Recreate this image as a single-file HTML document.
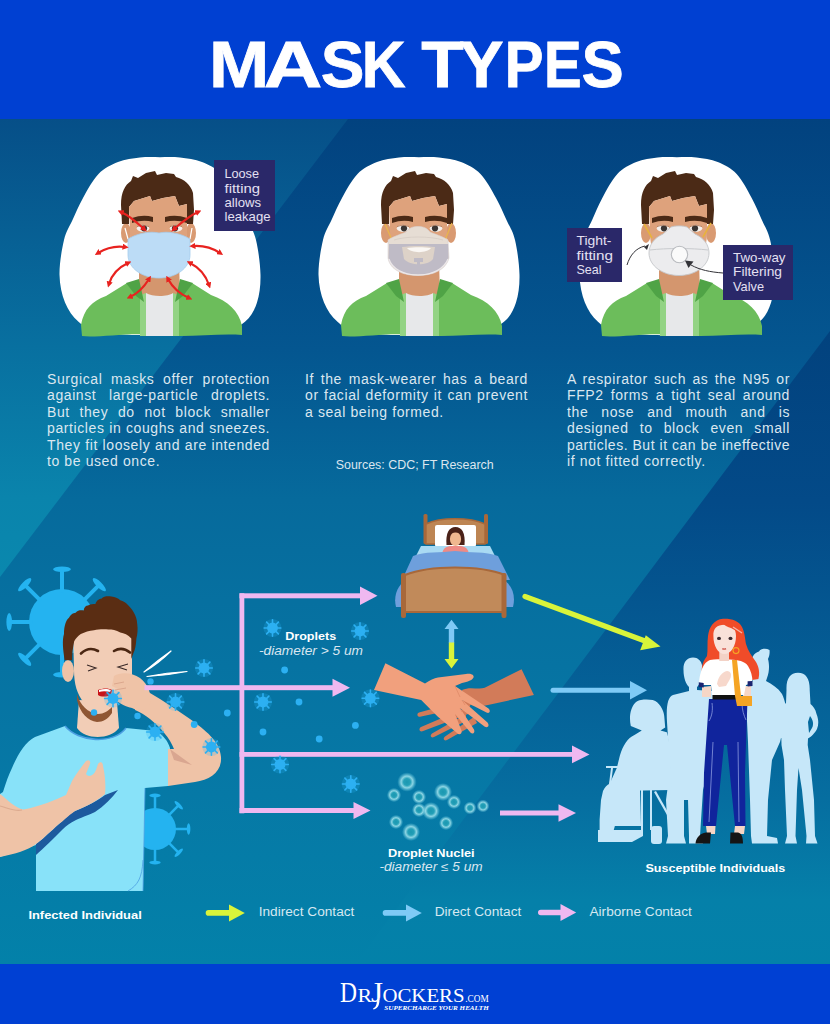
<!DOCTYPE html>
<html><head><meta charset="utf-8">
<style>
html,body{margin:0;padding:0;}
body{width:830px;height:1024px;overflow:hidden;position:relative;background:#0040d2;font-family:"Liberation Sans",sans-serif;}
#bg{position:absolute;left:0;top:0;}
.p{position:absolute;color:#dbe7f0;font-size:14px;line-height:16.4px;letter-spacing:0.6px;}
.p div{text-align:justify;text-align-last:justify;white-space:nowrap;}
.p div.l{text-align:left;text-align-last:left;}
</style></head>
<body>
<svg id="bg" width="830" height="1024" viewBox="0 0 830 1024">
<defs>
<linearGradient id="gbase" x1="0" y1="119" x2="0" y2="964" gradientUnits="userSpaceOnUse">
<stop offset="0" stop-color="#02427f"/>
<stop offset="0.273" stop-color="#045690"/>
<stop offset="0.45" stop-color="#066a9c"/>
<stop offset="0.57" stop-color="#0670a0"/>
<stop offset="0.8" stop-color="#0679a6"/>
<stop offset="1" stop-color="#0381a9"/>
</linearGradient>
<linearGradient id="gleft" x1="0" y1="119" x2="0" y2="575" gradientUnits="userSpaceOnUse">
<stop offset="0" stop-color="#064f88"/>
<stop offset="0.5" stop-color="#0870a0"/>
<stop offset="0.83" stop-color="#0a84ac"/>
<stop offset="1" stop-color="#0a88ae"/>
</linearGradient>
<linearGradient id="gright" x1="0" y1="331" x2="0" y2="964" gradientUnits="userSpaceOnUse">
<stop offset="0" stop-color="#02427e"/>
<stop offset="0.27" stop-color="#034a88"/>
<stop offset="0.43" stop-color="#045690"/>
<stop offset="0.74" stop-color="#066ea0"/>
<stop offset="0.9" stop-color="#0580a9"/>
<stop offset="1" stop-color="#0381a9"/>
</linearGradient>

<path id="blobshape" d="M 0.0,157.2 C 6.7,157.2 13.0,156.8 20.0,157.6 C 27.0,158.4 35.1,159.3 42.0,162.0 C 48.9,164.7 55.7,168.0 61.5,174.0 C 67.3,180.0 72.7,190.3 77.0,198.0 C 81.3,205.7 84.3,213.0 87.5,220.0 C 90.7,227.0 93.8,230.9 96.0,240.0 C 98.2,249.1 100.3,264.3 100.5,274.7 C 100.7,285.1 99.6,294.5 97.0,302.4 C 94.4,310.2 91.2,316.8 85.0,321.8 C 78.8,326.8 74.2,330.2 60.0,332.5 C 45.8,334.8 20.0,335.5 0.0,335.5 C -20.0,335.5 -46.4,334.8 -60.0,332.5 C -73.6,330.2 -75.7,326.8 -81.5,321.8 C -87.3,316.8 -91.8,310.2 -95.0,302.4 C -98.2,294.5 -100.3,285.1 -100.5,274.7 C -100.7,264.3 -98.2,249.1 -96.0,240.0 C -93.8,230.9 -90.7,227.0 -87.5,220.0 C -84.3,213.0 -81.3,205.7 -77.0,198.0 C -72.7,190.3 -67.3,180.0 -61.5,174.0 C -55.7,168.0 -48.9,164.7 -42.0,162.0 C -35.1,159.3 -27.0,158.4 -20.0,157.6 C -13.0,156.8 -6.7,157.2 0.0,157.2 Z"/>
<g id="bust">
 <path d="M -76,336 L -77,325 C -74,309 -66,301 -52,296 L -31,283 L 34,283 L 53,295 C 70,301 81,311 84,326 L 84,335 C 60,333 30,338 0,335 C -30,332 -60,338 -76,336 Z" fill="#6cbd5b"/>
 <path d="M -19,260 L 21,260 L 22,296 L -19,296 Z" fill="#d4966e"/>
 <path d="M -12,293 C -6,297 10,297 15,293 L 15,336 L -12,336 Z" fill="#e7e8ea"/>
 <path d="M -18,295 L -12,293 L -12,336 L -18,336 Z" fill="#93d384"/>
 <path d="M 15,293 L 21,295 L 21,336 L 15,336 Z" fill="#93d384"/>
 <path d="M -32,283 L -19,279 L -14,302 L -22,296 Z" fill="#4fa346"/>
 <path d="M 35,283 L 22,279 L 17,302 L 25,296 Z" fill="#4fa346"/>
 <ellipse cx="-32" cy="233" rx="5" ry="10" fill="#d99a72"/>
 <ellipse cx="33" cy="233" rx="5" ry="10" fill="#d99a72"/>
 <path d="M -36,224 L -37,205 C -37,192 -33,185 -27,181 L -25,176 L -20,178 L -12,173 L -3,171 L -1,175 L 8,173 L 16,174 L 18,177 C 26,179 33,185 35,193 L 36,210 L 35,224 L 29,224 L 29,204 L 21,206 L 17,196 L 5,198 L -6,201 L -8,196 L -24,201 L -29,207 L -29,224 Z" fill="#4b2a16"/>
 <path d="M -29,207 L -24,201 L -8,196 L -6,201 L 5,198 L 17,196 L 21,206 L 29,204 L 29,232 C 29,252 22,264 12,270 C 5,274 -4,274 -11,270 C -21,264 -28,252 -28,232 Z" fill="#dea27c"/>
 <path d="M -26,218 Q -15,214 -5,217 L -5,222 Q -15,219 -26,223 Z" fill="#4b2a16"/>
 <path d="M 29,218 Q 18,214 7,217 L 7,222 Q 18,219 29,223 Z" fill="#4b2a16"/>
 <ellipse cx="-15" cy="228.3" rx="6.2" ry="3.6" fill="#f4f1ee"/>
 <ellipse cx="18" cy="228.3" rx="6.2" ry="3.6" fill="#f4f1ee"/>
 <circle cx="-14" cy="228.3" r="3.1" fill="#3b3634"/>
 <circle cx="17" cy="228.3" r="3.1" fill="#3b3634"/>
 <path d="M -21,226.5 Q -15,223.5 -9,226.5 M 12,226.5 Q 18,223.5 24,226.5" stroke="#b07a5a" stroke-width="0.9" fill="none"/>
</g>

<marker id="rh" viewBox="0 0 10 10" refX="4" refY="5" markerWidth="2.8" markerHeight="2.8" orient="auto-start-reverse"><path d="M0,0 L10,5 L0,10 Z" fill="#e8221f"/></marker>
<marker id="dh" viewBox="0 0 10 10" refX="5" refY="5" markerWidth="6" markerHeight="6" orient="auto"><path d="M0,0 L10,5 L0,10 Z" fill="#333338"/></marker>

<g id="virus">
 <circle cx="0" cy="0" r="1" stroke="none"/>
 <g stroke="currentColor" stroke-width="0.12" fill="none">
  <line x1="0" y1="-0.9" x2="0" y2="-1.58"/><line x1="0" y1="0.9" x2="0" y2="1.58"/>
  <line x1="-0.9" y1="0" x2="-1.58" y2="0"/><line x1="0.9" y1="0" x2="1.58" y2="0"/>
  <line x1="0.65" y1="-0.65" x2="1.12" y2="-1.12"/><line x1="-0.65" y1="-0.65" x2="-1.12" y2="-1.12"/>
  <line x1="0.65" y1="0.65" x2="1.12" y2="1.12"/><line x1="-0.65" y1="0.65" x2="-1.12" y2="1.12"/>
 </g>
 <g stroke="none">
  <ellipse cx="0" cy="-1.6" rx="0.27" ry="0.085"/><ellipse cx="0" cy="1.6" rx="0.27" ry="0.085"/>
  <ellipse cx="-1.6" cy="0" rx="0.085" ry="0.27"/><ellipse cx="1.6" cy="0" rx="0.085" ry="0.27"/>
  <ellipse cx="1.13" cy="-1.13" rx="0.27" ry="0.085" transform="rotate(45 1.13 -1.13)"/>
  <ellipse cx="-1.13" cy="-1.13" rx="0.27" ry="0.085" transform="rotate(-45 -1.13 -1.13)"/>
  <ellipse cx="1.13" cy="1.13" rx="0.27" ry="0.085" transform="rotate(-45 1.13 1.13)"/>
  <ellipse cx="-1.13" cy="1.13" rx="0.27" ry="0.085" transform="rotate(45 -1.13 1.13)"/>
 </g>
</g>
<g id="svirus">
 <circle cx="0" cy="0" r="1.75" opacity="0.22" stroke="none"/>
 <circle cx="0" cy="0" r="1.05" stroke="none"/>
 <g stroke="currentColor" stroke-width="0.3" stroke-linecap="round" fill="none">
  <line x1="0" y1="-1" x2="0" y2="-1.6"/><line x1="0" y1="1" x2="0" y2="1.6"/>
  <line x1="-1" y1="0" x2="-1.6" y2="0"/><line x1="1" y1="0" x2="1.6" y2="0"/>
  <line x1="0.7" y1="-0.7" x2="1.13" y2="-1.13"/><line x1="-0.7" y1="-0.7" x2="-1.13" y2="-1.13"/>
  <line x1="0.7" y1="0.7" x2="1.13" y2="1.13"/><line x1="-0.7" y1="0.7" x2="-1.13" y2="1.13"/>
 </g>
</g>
</defs>
<!-- header -->
<rect x="0" y="0" width="830" height="119" fill="#0040d2"/>
<!-- main bg -->
<rect x="0" y="119" width="830" height="845" fill="url(#gbase)"/>
<polygon points="0,119 348,119 0,577" fill="url(#gleft)"/>
<polygon points="830,331 830,964 355,964" fill="url(#gright)"/>

<!-- blobs -->
<use href="#blobshape" x="160" fill="#ffffff"/>
<use href="#blobshape" x="419" fill="#ffffff"/>
<use href="#blobshape" transform="translate(677,0) scale(0.97,1)" fill="#ffffff"/>
<use href="#bust" x="158"/>
<use href="#bust" x="418"/>
<use href="#bust" x="678"/>

<!-- mask 1 surgical -->
<g transform="translate(158,0)">
 <path d="M -30,239 L -33,228 M 32,239 L 34,228" stroke="#ffffff" stroke-width="1.2"/>
 <path d="M -30,239 C -20,233 -8,231 1,233 C 10,231 22,233 32,239 L 32,255 C 32,268 18,278 1,278 C -16,278 -30,268 -30,255 Z" fill="#bcdcf6" stroke="#a6cdee" stroke-width="0.8"/>
 <g fill="none" stroke="#e8221f" stroke-width="2.2" marker-start="url(#rh)" marker-end="url(#rh)">
  <path d="M -37,212 Q -28,216 -14,229"/>
  <path d="M 40,212 Q 31,216 16,229"/>
  <path d="M -60,253 Q -47,245 -33,247"/>
  <path d="M 35,246 Q 50,245 62,253"/>
  <path d="M -49,284 Q -45,270 -30,263"/>
  <path d="M 32,263 Q 46,270 51,285"/>
  <path d="M -28,297 Q -17,292 -9,279"/>
  <path d="M 10,279 Q 17,292 31,298"/>
 </g>
</g>
<!-- mask 2 -->
<g transform="translate(418,0)">
 <path d="M -33,224 L -26,240 M 34,223 L 27,240" stroke="#e9b44c" stroke-width="1.3"/>
 <path d="M -30,240 C -24,236 -16,234 -12,232 C -8,227 -4,226.5 0,226.5 C 4,226.5 8,227 12,232 C 16,234 24,236 30,240 L 31,258 C 28,270 15,275.5 0,275.5 C -15,275.5 -28,270 -30,258 Z" fill="#e6ddd4" stroke="#d8d2d4" stroke-width="0.6"/>
 <path d="M -29,244 C -15,244 15,244 30,244 L 30.5,258 C 27,269 15,274.5 0,274.5 C -15,274.5 -27,269 -29.5,258 Z" fill="#bfbbc6"/>
 <path d="M -16,247 C -8,245.5 8,245.5 17,247 L 15,259 C 10,266 -8,266 -14,259 Z" fill="#ddd2c8"/>
 <path d="M -11,248 C -4,247 6,247 13,248 C 9,253.5 -7,253.5 -11,248 Z" fill="#faf7f4"/>
 <path d="M -4,258 L 5,258 L 5,262 L 2,262 L 2,268 L -1,268 L -1,262 L -4,262 Z" fill="#bfbbc6"/>
 <path d="M -24,240 C -12,236 12,236 25,240" fill="none" stroke="#d6ccc4" stroke-width="0.8"/>
 <path d="M -29,259 C -26,269 -14,275 0,275 C 14,275 26,269 30,259" fill="none" stroke="#ece8ea" stroke-width="1.2"/>
</g>
<!-- mask 3 -->
<g transform="translate(678,0)">
 <path d="M -34,224 L -26,238 M 33,223 L 25,237" stroke="#e8b23c" stroke-width="1.6"/>
 <path d="M -7,227 C -3,225.5 5,225.5 9,227 C 12,229 14,232 17,234 C 26,238 31,245 31,253 C 31,266 17,275.5 1,275.5 C -15,275.5 -29,266 -29,253 C -29,245 -24,238 -15,234 C -12,232 -10,229 -7,227 Z" fill="#ececee" stroke="#c4c6ca" stroke-width="0.9"/>
 <path d="M -28,250 C -12,248 14,248 30,250" fill="none" stroke="#c4c6ca" stroke-width="0.9"/>
 <circle cx="1.5" cy="254.5" r="8.2" fill="#fafafa" stroke="#b9bbbf" stroke-width="1.1"/>
 <path d="M 7,260.5 L 15.5,261.5 L 10.5,268 Z" fill="#333338"/>
 <path d="M 13,265 C 22,270 32,272 45,273" fill="none" stroke="#333338" stroke-width="1"/>
 <path d="M -34,247 L -29,244 L -31,250 Z" fill="#333338"/>
 <path d="M -51,265 C -48,255 -42,248 -33,246" fill="none" stroke="#333338" stroke-width="1"/>
</g>
<!-- label boxes -->
<rect x="214" y="160" width="61" height="71" fill="#2a2869"/>
<rect x="567" y="228" width="55" height="54" fill="#2a2869"/>
<rect x="723" y="245" width="70" height="55" fill="#2a2869"/>
<g font-family="Liberation Sans" font-size="12.8" fill="#e4e0f2" lengthAdjust="spacingAndGlyphs">
 <text x="224.5" y="178" textLength="34.5" lengthAdjust="spacingAndGlyphs">Loose</text>
 <text x="224.5" y="192.5" textLength="35.5" lengthAdjust="spacingAndGlyphs">fitting</text>
 <text x="224.5" y="206.5" textLength="36.5" lengthAdjust="spacingAndGlyphs">allows</text>
 <text x="224.5" y="221" textLength="46" lengthAdjust="spacingAndGlyphs">leakage</text>
 <text x="576.5" y="245" textLength="35" lengthAdjust="spacingAndGlyphs">Tight-</text>
 <text x="576.5" y="259.5" textLength="36.5" lengthAdjust="spacingAndGlyphs">fitting</text>
 <text x="576.5" y="273.5" textLength="25" lengthAdjust="spacingAndGlyphs">Seal</text>
 <text x="733" y="261.5" textLength="52.5" lengthAdjust="spacingAndGlyphs">Two-way</text>
 <text x="733" y="276" textLength="49" lengthAdjust="spacingAndGlyphs">Filtering</text>
 <text x="733" y="290.5" textLength="31" lengthAdjust="spacingAndGlyphs">Valve</text>
</g>

<!-- sneezing man -->
<g fill="#24b3f0" color="#24b3f0">
 <use href="#virus" transform="translate(62,622) scale(33)"/>
 <use href="#virus" transform="translate(155,829) scale(21)"/>
</g>
<!-- shirt -->
<path d="M 65,726 C 78,742 113,745 126,728 L 156,731 C 163,735 168,741 170,748 L 168,786 L 145,788 L 143,891 L 36,891 L 36,845 L 0,857 L 0,794 L 3,792 C 6,782 9,774 12,768 C 17,756 25,742 35,737 Z" fill="#88e2f9"/>
<path d="M 65,726 C 78,742 113,745 126,728" fill="none" stroke="#4b9ee2" stroke-width="1.6"/>
<path d="M 145,788 L 143,891" stroke="#4b9ee2" stroke-width="0.8"/>
<path d="M 128,891 C 138,885 142,878 143,860" fill="none" stroke="#4b9ee2" stroke-width="0.8"/>
<!-- dark fold -->
<path d="M 36,844 C 42,840 50,832 59.5,823.6 C 66,818 70,813 75,811 C 88,806 98,800 105,795 L 118,790 C 112,798 104,806 95,812 C 86,816 80,818 76,820 C 70,823 66,826 63,829 C 52,840 44,848 36,855 Z" fill="#1d5a9e"/>
<!-- left arm across chest -->
<path d="M 0,794 C 8,800 15,808 23.5,809.5 C 32,808 40,805 47,803 C 55,800 61,797 66,795 L 72,781 C 76,774 82,766 86,761 C 89,759 91,761 90,764 L 86,774 C 88,777 93,777 96,770 L 98,764 C 100,761 103,762 103,766 C 105,774 106,786 105,794 C 98,800 88,806 75,811 C 68,816 62,822 59.5,823.6 C 50,832 42,840 36,844 C 28,850 15,854 0,857 Z" fill="#efc3a7"/>
<path d="M 0,806 C 8,808 15,812 22,810" fill="none" stroke="#dcab90" stroke-width="1.2"/>
<!-- raised arm -->
<path d="M 130,682 C 150,692 170,705 190,719 C 205,730 220,741 221,757 C 222,772 210,780 195,782 L 168,786 L 168,749 L 174,749 C 170,738 160,727 150,719 C 145,715 140,712 135,710 Z" fill="#efc3a7"/>
<path d="M 170,749 L 192,765 L 174,760 Z" fill="#d9a690"/>
<!-- neck -->
<path d="M 79,700 L 117,702 L 119,728 C 110,740 85,740 77,728 Z" fill="#f2cdb6"/>
<path d="M 77,694 C 80,705 88,713 98,714 C 104,714 108,711 112,707 L 112,713 C 108,719 103,722 97,722 C 88,721 80,713 77,700 Z" fill="#8f5633"/>
<!-- head -->
<ellipse cx="68" cy="671" rx="6" ry="11" fill="#efc3a7"/>
<path d="M 73,632 C 73,620 90,614 104,614 C 120,614 132,620 132,634 L 132,676 C 130,690 120,704 104,710 C 96,713 90,710 84,703 C 77,694 74,684 74,670 Z" fill="#f2cdb6"/>
<path d="M 64.7,660 C 63,650 62,640 64,634 C 64,626 66,620 69,617.8 C 71,614 73,613 75.6,612.7 C 78,610 81,610 83.7,610.5 C 84,607 86,605.5 88,605.4 C 91,604 93,604 95.4,604 C 97,600 99,599 101.3,598.8 C 104,596 108,596 111.5,596.6 C 115,597 118,598 120.3,600.3 C 123,601 126,603 127.7,604.7 C 130,607 132,609 133.5,612 C 136,616 137,620 137.2,623.7 C 138,630 137.5,634 136.4,638.4 C 136,645 135,650 133.5,653 L 131.3,659 L 131.3,638.4 C 128,635 124,633 120.3,632.5 C 116,630 112,629.6 108.6,629.6 C 103,629 98,629.5 94,630.3 C 89,631 85,632 80.8,634 C 78,636 76,638 74.2,641.3 C 73,647 72,654 72,660.3 Z" fill="#5a2d13"/>
<path d="M 81,653.5 Q 89,646 98,651" fill="none" stroke="#4a2612" stroke-width="2.6" stroke-linecap="round"/>
<path d="M 114,651 Q 122,646 130,652.5" fill="none" stroke="#4a2612" stroke-width="2.6" stroke-linecap="round"/>
<path d="M 87,665 L 96,668 L 88,671 M 128,664 L 118,667 L 127,670" fill="none" stroke="#3a2a28" stroke-width="1.1"/>
<path d="M 98,690 C 103,688 109,688 112,690 L 111,695 C 106,697 101,697 98,695 Z" fill="#c8141a"/>
<path d="M 99,690 C 103,688.5 108,688.5 111,690 L 110,692 C 106,691 102,691 99,692 Z" fill="#ffffff"/>
<!-- hand at nose -->
<path d="M 114,676 C 120,672 132,672 140,678 C 148,684 152,694 150,704 C 147,710 140,712 132,708 C 124,706 116,702 113,696 L 120,690 L 112,686 Z" fill="#efc3a7"/>
<path d="M 114,684 L 124,682 M 115,690 L 126,688" stroke="#d9a48a" stroke-width="0.9"/>
<!-- sneeze lines -->
<path d="M 144,672 Q 158,660 171,651 Q 159,663 144,672 Z" fill="#ffffff" stroke="#ffffff" stroke-width="1.2" stroke-linejoin="round"/>
<path d="M 147,676.5 Q 167,672.5 187,671.5 Q 167,675.5 147,676.5 Z" fill="#ffffff" stroke="#ffffff" stroke-width="1.2" stroke-linejoin="round"/>

<!-- pink arrows -->
<g fill="#efb8f0">
 <rect x="239.5" y="593.3" width="4.8" height="220"/>
 <rect x="239.5" y="593.3" width="122" height="5"/>
 <path d="M 360,586.5 L 377.5,595.8 L 360,605.1 Z"/>
 <rect x="144.5" y="685.2" width="190" height="5"/>
 <path d="M 332.5,678.7 L 350,687.7 L 332.5,696.7 Z"/>
 <rect x="239.5" y="752" width="335" height="4.8"/>
 <path d="M 572,745.5 L 589.5,754.4 L 572,763.3 Z"/>
 <rect x="239.5" y="808" width="115" height="5"/>
 <path d="M 353.5,802 L 370.5,810.5 L 353.5,819 Z"/>
 <rect x="500" y="810.5" width="60" height="5"/>
 <path d="M 558.5,804.3 L 576,813 L 558.5,821.7 Z"/>
</g>
<!-- small viruses -->
<g fill="#2cb0f2" color="#2cb0f2">
 <use href="#svirus" transform="translate(272.5,628) scale(5.2)"/>
 <use href="#svirus" transform="translate(360,631) scale(5.2)"/>
 <use href="#svirus" transform="translate(204,668) scale(5.2)"/>
 <use href="#svirus" transform="translate(175.5,702) scale(5.2)"/>
 <use href="#svirus" transform="translate(263,702) scale(5.2)"/>
 <use href="#svirus" transform="translate(370.4,698.3) scale(5.2)"/>
 <use href="#svirus" transform="translate(155,732) scale(5.2)"/>
 <use href="#svirus" transform="translate(211.4,747) scale(5.2)"/>
 <use href="#svirus" transform="translate(280,764.5) scale(5.2)"/>
 <use href="#svirus" transform="translate(350.8,784) scale(5.2)"/>
 <use href="#svirus" transform="translate(113,698.5) scale(5.2)"/>
 <circle cx="284.6" cy="670" r="3.4"/>
 <circle cx="299" cy="702" r="3.4"/>
 <circle cx="227.3" cy="713" r="3.4"/>
 <circle cx="194.2" cy="724.5" r="3.4"/>
 <circle cx="263" cy="732" r="3.4"/>
 <circle cx="319.2" cy="739" r="3.4"/>
 <circle cx="355.4" cy="725.4" r="3.4"/>
 <circle cx="150.5" cy="681.4" r="3.2"/>
 <circle cx="137.5" cy="716" r="3.2"/>
 <circle cx="94" cy="712.5" r="3.2"/>
</g>
<!-- bed -->
<g>
 <path d="M 396,607 C 393,595 398,583 410,578 L 500,578 C 512,583 516,595 513,607 Z" fill="#6e9fdc"/>
 <rect x="423.5" y="514" width="4" height="30" rx="1.5" fill="#a8683a"/>
 <rect x="484" y="514" width="4" height="30" rx="1.5" fill="#a8683a"/>
 <path d="M 426,524 C 440,517 470,517 485,524 L 485,544 L 426,544 Z" fill="#bd8553" stroke="#a8683a" stroke-width="1.4"/>
 <rect x="435" y="525" width="41" height="22" rx="2" fill="#ffffff"/>
 <path d="M 446.5,545 C 445.5,533 449,527 455.5,527 C 462,527 465.5,533 464.5,545 Z" fill="#4a2218"/>
 <ellipse cx="455.5" cy="539" rx="5.6" ry="7" fill="#f0b890"/>
 <path d="M 449.5,534 C 451,529.5 460,529.5 461.5,534 C 458,532 453,532 449.5,534 Z" fill="#4a2218"/>
 <path d="M 421,546 L 490,546 L 497,560 L 414,560 Z" fill="#a9daf3"/>
 <path d="M 442.5,552 C 443.5,547.5 448,546 452,546 L 459,546 C 463,546 467.5,547.5 468.5,552 Z" fill="#ee8a86"/>

 <path d="M 413,556 C 425,551 440,553 455,551 C 470,553 485,551 498,556 L 510,580 L 402,580 Z" fill="#6e9fdc"/>
 <path d="M 405,575 C 430,565 480,565 505,575 L 505,612 L 405,612 Z" fill="#c18a5a" stroke="#a8683a" stroke-width="2"/>
 <rect x="401" y="573" width="5" height="45" rx="2" fill="#a8683a"/>
 <rect x="501.5" y="573" width="5" height="45" rx="2" fill="#a8683a"/>
</g>
<!-- double arrow -->
<path d="M 451.5,619.8 L 458.5,629 L 454.2,629 L 454.2,643 L 448.8,643 L 448.8,629 L 444.5,629 Z" fill="#7ec9f6"/>
<path d="M 448.8,642.5 L 454.2,642.5 L 454.2,659 L 458.5,659 L 451.5,668.5 L 444.5,659 L 448.8,659 Z" fill="#d8f43a"/>
<!-- handshake -->
<g>
 <path d="M 521.6,669.3 L 533.9,695 L 486.8,705.2 C 478,707 470,706 465,702 L 462,690 C 470,686 478,690 484.7,687.8 Z" fill="#d27b59"/>
 <g fill="#d27b59">
  <path d="M 472,698 L 419,712.5 C 416.5,713.5 417,717 420,716.8 L 470,706 Z"/>
  <path d="M 470,706 L 421,727 C 418.5,728.5 419,732 422.5,731.3 L 468,714 Z"/>
  <path d="M 466,714 L 432,733.5 C 429.5,735.5 431,738.5 434,737 L 466,721 Z"/>
  <path d="M 474,717 L 445,736.5 C 442.5,738.5 444,741.5 447,740 L 477,723 Z"/>
 </g>
 <path d="M 385.4,663.2 L 425,683.5 C 430,680 434,678 438,677.5 L 466,674 C 471,673 474.5,675 473.5,677.5 C 472,680.5 468,681.5 462,683 L 455,686 L 488.5,708.5 C 491,711 489.5,714 486.5,712.5 L 462,700 L 487.5,722.5 C 490,726 487.5,728.5 484.5,726.5 L 460,708 L 474,729.5 C 475.5,733 472.5,735 470,732 L 455,714 L 461.5,730.5 C 462.5,734 459,735.5 457,733 L 437.6,716.4 L 421.2,700 L 374,690 Z" fill="#f1a07d"/>
 <path d="M 455,686 L 460,697 M 462,700 L 465,705 M 460,708 L 462,712" stroke="#e08a68" stroke-width="0.8" fill="none"/>
</g>
<!-- yellow & blue arrows -->
<line x1="525" y1="596.5" x2="645" y2="641" stroke="#d9f43a" stroke-width="5.2" stroke-linecap="round"/>
<path d="M 660.5,646.5 L 640.2,650.2 L 645.8,635.2 Z" fill="#d9f43a"/>
<rect x="550.5" y="687.8" width="82" height="5" rx="2.5" fill="#7ecaf6"/>
<path d="M 630,681 L 647,690.3 L 630,699.5 Z" fill="#7ecaf6"/>

<!-- crowd silhouettes -->
<g fill="#c6e7f9">
 <!-- person 4 far right -->
 <path d="M 786.5,690 C 786,679 790,672.8 798,672.8 C 806,672.8 810,679 809.7,690 L 810.5,704 C 813,706 815.5,709 816.5,714 C 818.5,719 819,724 817,729 C 815,733 811,737 808,738.5 L 807.7,745 L 810,760 L 814,800 L 815,836 L 817.5,843.5 L 806,843.5 L 806.5,836 L 802,790 L 798.5,768 L 797,790 L 795.5,836 L 797,843.5 L 785,843.5 L 787,836 L 785,790 L 784,760 L 781.5,745 L 781,720 C 781,712 782.5,706 786,703 Z"/>
 <path d="M 810,716 C 813,720 814,724 812,728 L 809,733 L 808,722 Z" fill="#066a9e"/>
 <!-- person 3 -->
 <path d="M 751,668 C 750,660 753,653 759,651.5 C 761,648.5 766,648 769.5,650 C 770,654 769,657 768,659 C 769.5,664 769.5,672 767,678 L 766,681 C 772,684 778,688 782,694 C 785,700 787.5,712 789,725 C 789.5,732 789,737 786,738.5 L 781,738 L 780,742 L 772,760 L 768,800 L 767,836 L 777,838 L 778,843.5 L 752,843.5 L 751,836 L 750,800 L 748,742 L 746,700 C 747,690 749,684 753,681 C 751,677 751,672 751,668 Z"/>
 <!-- person 2 man -->
 <path d="M 683.5,670 C 683,662 687,657.4 693,657.4 C 699,657.4 702.6,662 702.6,670 C 702.6,678 700,684 697,687.2 L 697,690 L 712,691 C 716,694 716,702 715,712 L 711,760 L 703,790 L 700,836 L 703,843.5 L 689,843.5 L 689,836 L 688,800 L 684,800 L 684,836 L 686,843.5 L 666,843.5 L 668,836 L 666,800 L 670,770 L 667,722 C 666,705 668,697 673,695 L 689,691 L 689,687 C 686,684 683.5,678 683.5,670 Z"/>
 <!-- wheelchair person -->
 <path d="M 630.8,726 C 629,718 630,708 635.5,702.5 C 639,699.5 643,699.4 646.4,699.4 C 651,699.4 655,700 657.4,702.5 C 662,707 664.4,713 664.4,718 L 665.2,727.5 L 660.5,730.6 L 666.8,732.2 C 670,740 671,760 671.4,790 L 616,791 L 616,822 L 613.6,830.6 L 599.6,830.6 L 599.6,819.7 L 601,800 L 603,791 C 605,787 607,785 609.7,783.8 L 616.8,768 L 619.9,755.6 C 623,745 628,738 634,735.3 L 641.8,730.6 Z"/>
 <path d="M 607,788 L 640,790 L 641,826 L 610,826 Z"/>
 <rect x="606" y="766" width="13" height="2"/>
 <path d="M 613,768 L 606,823 L 604,823 L 611,768 Z"/>
 <rect x="641" y="790" width="2" height="40"/>
 <rect x="650" y="790" width="2" height="40"/>
 <path d="M 656,791 L 669,814 L 667,815 L 654,792 Z"/>
 <path d="M 598,830 L 643,830 L 643,836 L 632,842 L 598,842 Z"/>
 <rect x="651" y="826" width="11" height="18" rx="3"/>
</g>
<!-- woman -->
<g>
 <path d="M 723,618.8 C 732,618.5 739,621 742,627 C 745,633 745,639 746,644 C 748,651 752,656 756,662 C 759,667 760,673 758.4,679 L 752,680 L 745,668 L 712,668 L 702,674 C 701,667 703,661 707,656 C 708,650 707,643 708,636 C 709,627 714,619.5 723,618.8 Z" fill="#f04c29"/>
 <path d="M 703,826 L 704,773 L 709,699 L 747.5,699 L 745,773 L 745.5,826 L 735,826 L 727,745 L 724,745 L 716,826 Z" fill="#10249c"/>
 <path d="M 712,703 C 713,710 712,716 709,721 M 742,703 C 742,710 744,716 746,720" stroke="#8c9be0" stroke-width="0.8" fill="none"/>
 <path d="M 713,742 L 709,822 M 738,742 L 739,822" stroke="#8c9be0" stroke-width="0.8" fill="none"/>
 <path d="M 712.5,695 L 736,695 L 736,699.5 L 712.5,699.5 Z" fill="#111111"/>
 <path d="M 706,826 L 715.5,826 L 715,834 L 707,834 Z M 735,826 L 745,826 L 744,834 L 734,834 Z" fill="#f6d6c6"/>
 <path d="M 695.5,843.5 C 696,838 700,833 706,832.5 L 711,832.5 L 710,843.5 Z M 730,843.5 L 730.5,832.5 L 738,832.5 C 742,833 743,838 743,843.5 Z" fill="#151515"/>
 <path d="M 702,697 L 711,697 L 711,686 L 702,687 Z M 743,686 L 751,686 L 751,697 L 743,697 Z" fill="#f6d6c6"/>
 <path d="M 710,660 C 714,659 719,659 721,659.5 L 730,659.5 C 738,660 745,661 748,666 C 751,671 752.5,676 752.5,683 L 746,685 L 744,695 L 712,695 L 711,685 L 699,685 C 699,677 701,670 704,665 C 706,662 708,661 710,660 Z" fill="#ffffff"/>
 <path d="M 698.8,682.3 L 703.7,683 L 703.7,687.5 L 698.8,687 Z M 747.6,681.3 L 752.5,681 L 752.5,686 L 747.6,686.5 Z" fill="#1a2470"/>
 <path d="M 717,684 C 718,677 722,672 727,671 C 731,671 732,675 730,679 L 726,686 L 719,687 Z" fill="#f7d8cc"/>
 <path d="M 732,660 L 737,660 L 741,696 L 752,696 L 752,706 L 737,706 L 735,696 Z" fill="#f5a424"/>
 <path d="M 719.3,652 L 729,652 L 729,661 L 719.3,661 Z" fill="#f3d2c6"/>
 <path d="M 713.4,636 C 713,628 717,624.7 724.5,624.7 C 732,624.7 736,628 736,636 C 736,646 731,654 724.5,654 C 718,654 713.4,646 713.4,636 Z" fill="#f9e1d9"/>
 <path d="M 721,622 C 730,621 740,624 743,632 L 744,640 C 740,634 736,630 731,628 C 728,627 724,625.5 721,622 Z" fill="#f04c29"/>
 <path d="M 733,627 L 742,633" stroke="#f6b6a8" stroke-width="1.4"/>
 <ellipse cx="719" cy="638.4" rx="2" ry="1.6" fill="#3a2a30"/>
 <ellipse cx="730.5" cy="638.4" rx="2" ry="1.6" fill="#3a2a30"/>
 <path d="M 722.3,648.6 Q 724.2,649.8 726,648.6" stroke="#d05a50" stroke-width="1.3" fill="none"/>
 <circle cx="736" cy="650.6" r="3" fill="none" stroke="#f5a424" stroke-width="1.1"/>
</g>
<!-- droplet nuclei -->
<defs>
<radialGradient id="glow">
<stop offset="0" stop-color="#1b97b0"/>
<stop offset="0.35" stop-color="#24a0b8"/>
<stop offset="0.6" stop-color="#9adeea" stop-opacity="0.9"/>
<stop offset="0.8" stop-color="#7ed2e2" stop-opacity="0.45"/>
<stop offset="1" stop-color="#5cc4dc" stop-opacity="0"/>
</radialGradient>
</defs>
<g fill="url(#glow)">
 <circle cx="407" cy="782" r="9.8"/>
 <circle cx="443" cy="792" r="9.1"/>
 <circle cx="394" cy="795" r="7.2"/>
 <circle cx="419" cy="797" r="7.2"/>
 <circle cx="454" cy="802" r="7.2"/>
 <circle cx="470" cy="808" r="6.5"/>
 <circle cx="419" cy="810" r="7.2"/>
 <circle cx="431" cy="811" r="9.1"/>
 <circle cx="483" cy="806" r="6.5"/>
 <circle cx="396" cy="822" r="7.2"/>
 <circle cx="446" cy="823" r="7.2"/>
 <circle cx="411" cy="832" r="9.1"/>
</g>
<!-- labels -->
<g font-family="Liberation Sans" fill="#ffffff">
 <text x="285.2" y="640" font-weight="bold" font-size="11.5" textLength="51" lengthAdjust="spacingAndGlyphs">Droplets</text>
 <text x="259" y="654.6" font-style="italic" font-size="12" fill="#d9e6f0" textLength="104" lengthAdjust="spacingAndGlyphs">-diameter &gt; 5 um</text>
 <text x="388" y="857.3" font-weight="bold" font-size="11" textLength="86.6" lengthAdjust="spacingAndGlyphs">Droplet Nuclei</text>
 <text x="379.4" y="871.3" font-style="italic" font-size="12" fill="#d9e6f0" textLength="103.4" lengthAdjust="spacingAndGlyphs">-diameter ≤ 5 um</text>
 <text x="645.4" y="871.5" font-weight="bold" font-size="11.3" textLength="140" lengthAdjust="spacingAndGlyphs">Susceptible Individuals</text>
 <text x="28.4" y="919.4" font-weight="bold" font-size="11.5" textLength="113.4" lengthAdjust="spacingAndGlyphs">Infected Individual</text>
 <g font-size="12.5" fill="#d6e8f1">
  <text x="258.7" y="916.2" textLength="95.7" lengthAdjust="spacingAndGlyphs">Indirect Contact</text>
  <text x="434.7" y="916.2" textLength="86.6" lengthAdjust="spacingAndGlyphs">Direct Contact</text>
  <text x="589.5" y="916.2" textLength="102.3" lengthAdjust="spacingAndGlyphs">Airborne Contact</text>
 </g>
 <text x="335.7" y="469" font-size="12" fill="#dce6ef" textLength="158" lengthAdjust="spacingAndGlyphs">Sources: CDC; FT Research</text>
</g>
<!-- legend arrows -->
<rect x="205.7" y="910.1" width="27" height="5.6" rx="2.8" fill="#d9f43a"/>
<path d="M 229,904.4 L 244.8,912.9 L 229,921.4 Z" fill="#d9f43a"/>
<rect x="382.7" y="910.1" width="27" height="5.6" rx="2.8" fill="#7ecaf6"/>
<path d="M 406,904.4 L 421.8,912.9 L 406,921.4 Z" fill="#7ecaf6"/>
<rect x="538" y="909.7" width="27" height="5.6" rx="2.8" fill="#efb8f0"/>
<path d="M 560.5,904 L 576.2,912.5 L 560.5,921 Z" fill="#efb8f0"/>
<!-- footer -->
<rect x="0" y="965" width="830" height="59" fill="#0040d3"/>

<!-- footer logo -->
<g font-family="Liberation Serif" fill="#ffffff">
 <text x="340" y="1001.7" font-size="30" textLength="17" lengthAdjust="spacingAndGlyphs">D</text>
 <text x="357.5" y="1001.7" font-size="19.5" textLength="14.5" lengthAdjust="spacingAndGlyphs">R</text>
 <text x="371" y="1001.7" font-size="30" textLength="12" lengthAdjust="spacingAndGlyphs">J</text>
 <path d="M 379.5,999 C 379.5,1005 378,1008.5 373.5,1009.5 L 373,1008.6 C 376,1007.5 377,1004 377,999 Z" fill="#ffffff"/>
 <text x="382.5" y="1001.7" font-size="19.5" textLength="82" lengthAdjust="spacingAndGlyphs">OCKERS</text>
 <text x="465.2" y="1001.7" font-size="10" textLength="23.5" lengthAdjust="spacingAndGlyphs">.COM</text>
 <text x="384.3" y="1010" font-size="6.8" font-style="italic" font-weight="bold" textLength="104.4" lengthAdjust="spacingAndGlyphs">SUPERCHARGE YOUR HEALTH</text>
</g>
<!-- title -->
<text transform="translate(209.12,87.3) scale(1.112,1)" font-family="Liberation Sans" font-weight="bold" font-size="65" fill="#ffffff" stroke="#ffffff" stroke-width="0.8">M</text>
<text transform="translate(263.70,87.3) scale(1.248,1)" font-family="Liberation Sans" font-weight="bold" font-size="65" fill="#ffffff" stroke="#ffffff" stroke-width="0.8">A</text>
<text transform="translate(320.79,87.3) scale(1.008,1)" font-family="Liberation Sans" font-weight="bold" font-size="65" fill="#ffffff" stroke="#ffffff" stroke-width="0.8">S</text>
<text transform="translate(361.69,87.3) scale(0.933,1)" font-family="Liberation Sans" font-weight="bold" font-size="65" fill="#ffffff" stroke="#ffffff" stroke-width="0.8">K</text>
<text transform="translate(421.35,87.3) scale(1.070,1)" font-family="Liberation Sans" font-weight="bold" font-size="65" fill="#ffffff" stroke="#ffffff" stroke-width="0.8">T</text>
<text transform="translate(459.38,87.3) scale(1.015,1)" font-family="Liberation Sans" font-weight="bold" font-size="65" fill="#ffffff" stroke="#ffffff" stroke-width="0.8">Y</text>
<text transform="translate(504.76,87.3) scale(0.894,1)" font-family="Liberation Sans" font-weight="bold" font-size="65" fill="#ffffff" stroke="#ffffff" stroke-width="0.8">P</text>
<text transform="translate(544.07,87.3) scale(0.868,1)" font-family="Liberation Sans" font-weight="bold" font-size="65" fill="#ffffff" stroke="#ffffff" stroke-width="0.8">E</text>
<text transform="translate(581.45,87.3) scale(0.974,1)" font-family="Liberation Sans" font-weight="bold" font-size="65" fill="#ffffff" stroke="#ffffff" stroke-width="0.8">S</text>
</svg>

<div class="p" style="left:47px;top:371px;width:223px;">
<div>Surgical masks offer protection</div>
<div>against large-particle droplets.</div>
<div>But they do not block smaller</div>
<div>particles in coughs and sneezes.</div>
<div>They fit loosely and are intended</div>
<div class="l">to be used once.</div>
</div>
<div class="p" style="left:305px;top:371px;width:223px;">
<div>If the mask-wearer has a beard</div>
<div>or facial deformity it can prevent</div>
<div class="l">a seal being formed.</div>
</div>
<div class="p" style="left:567px;top:371px;width:223px;">
<div>A respirator such as the N95 or</div>
<div>FFP2 forms a tight seal around</div>
<div>the nose and mouth and is</div>
<div>designed to block even small</div>
<div style="letter-spacing:0.5px">particles. But it can be ineffective</div>
<div class="l">if not fitted correctly.</div>
</div>
</body></html>
